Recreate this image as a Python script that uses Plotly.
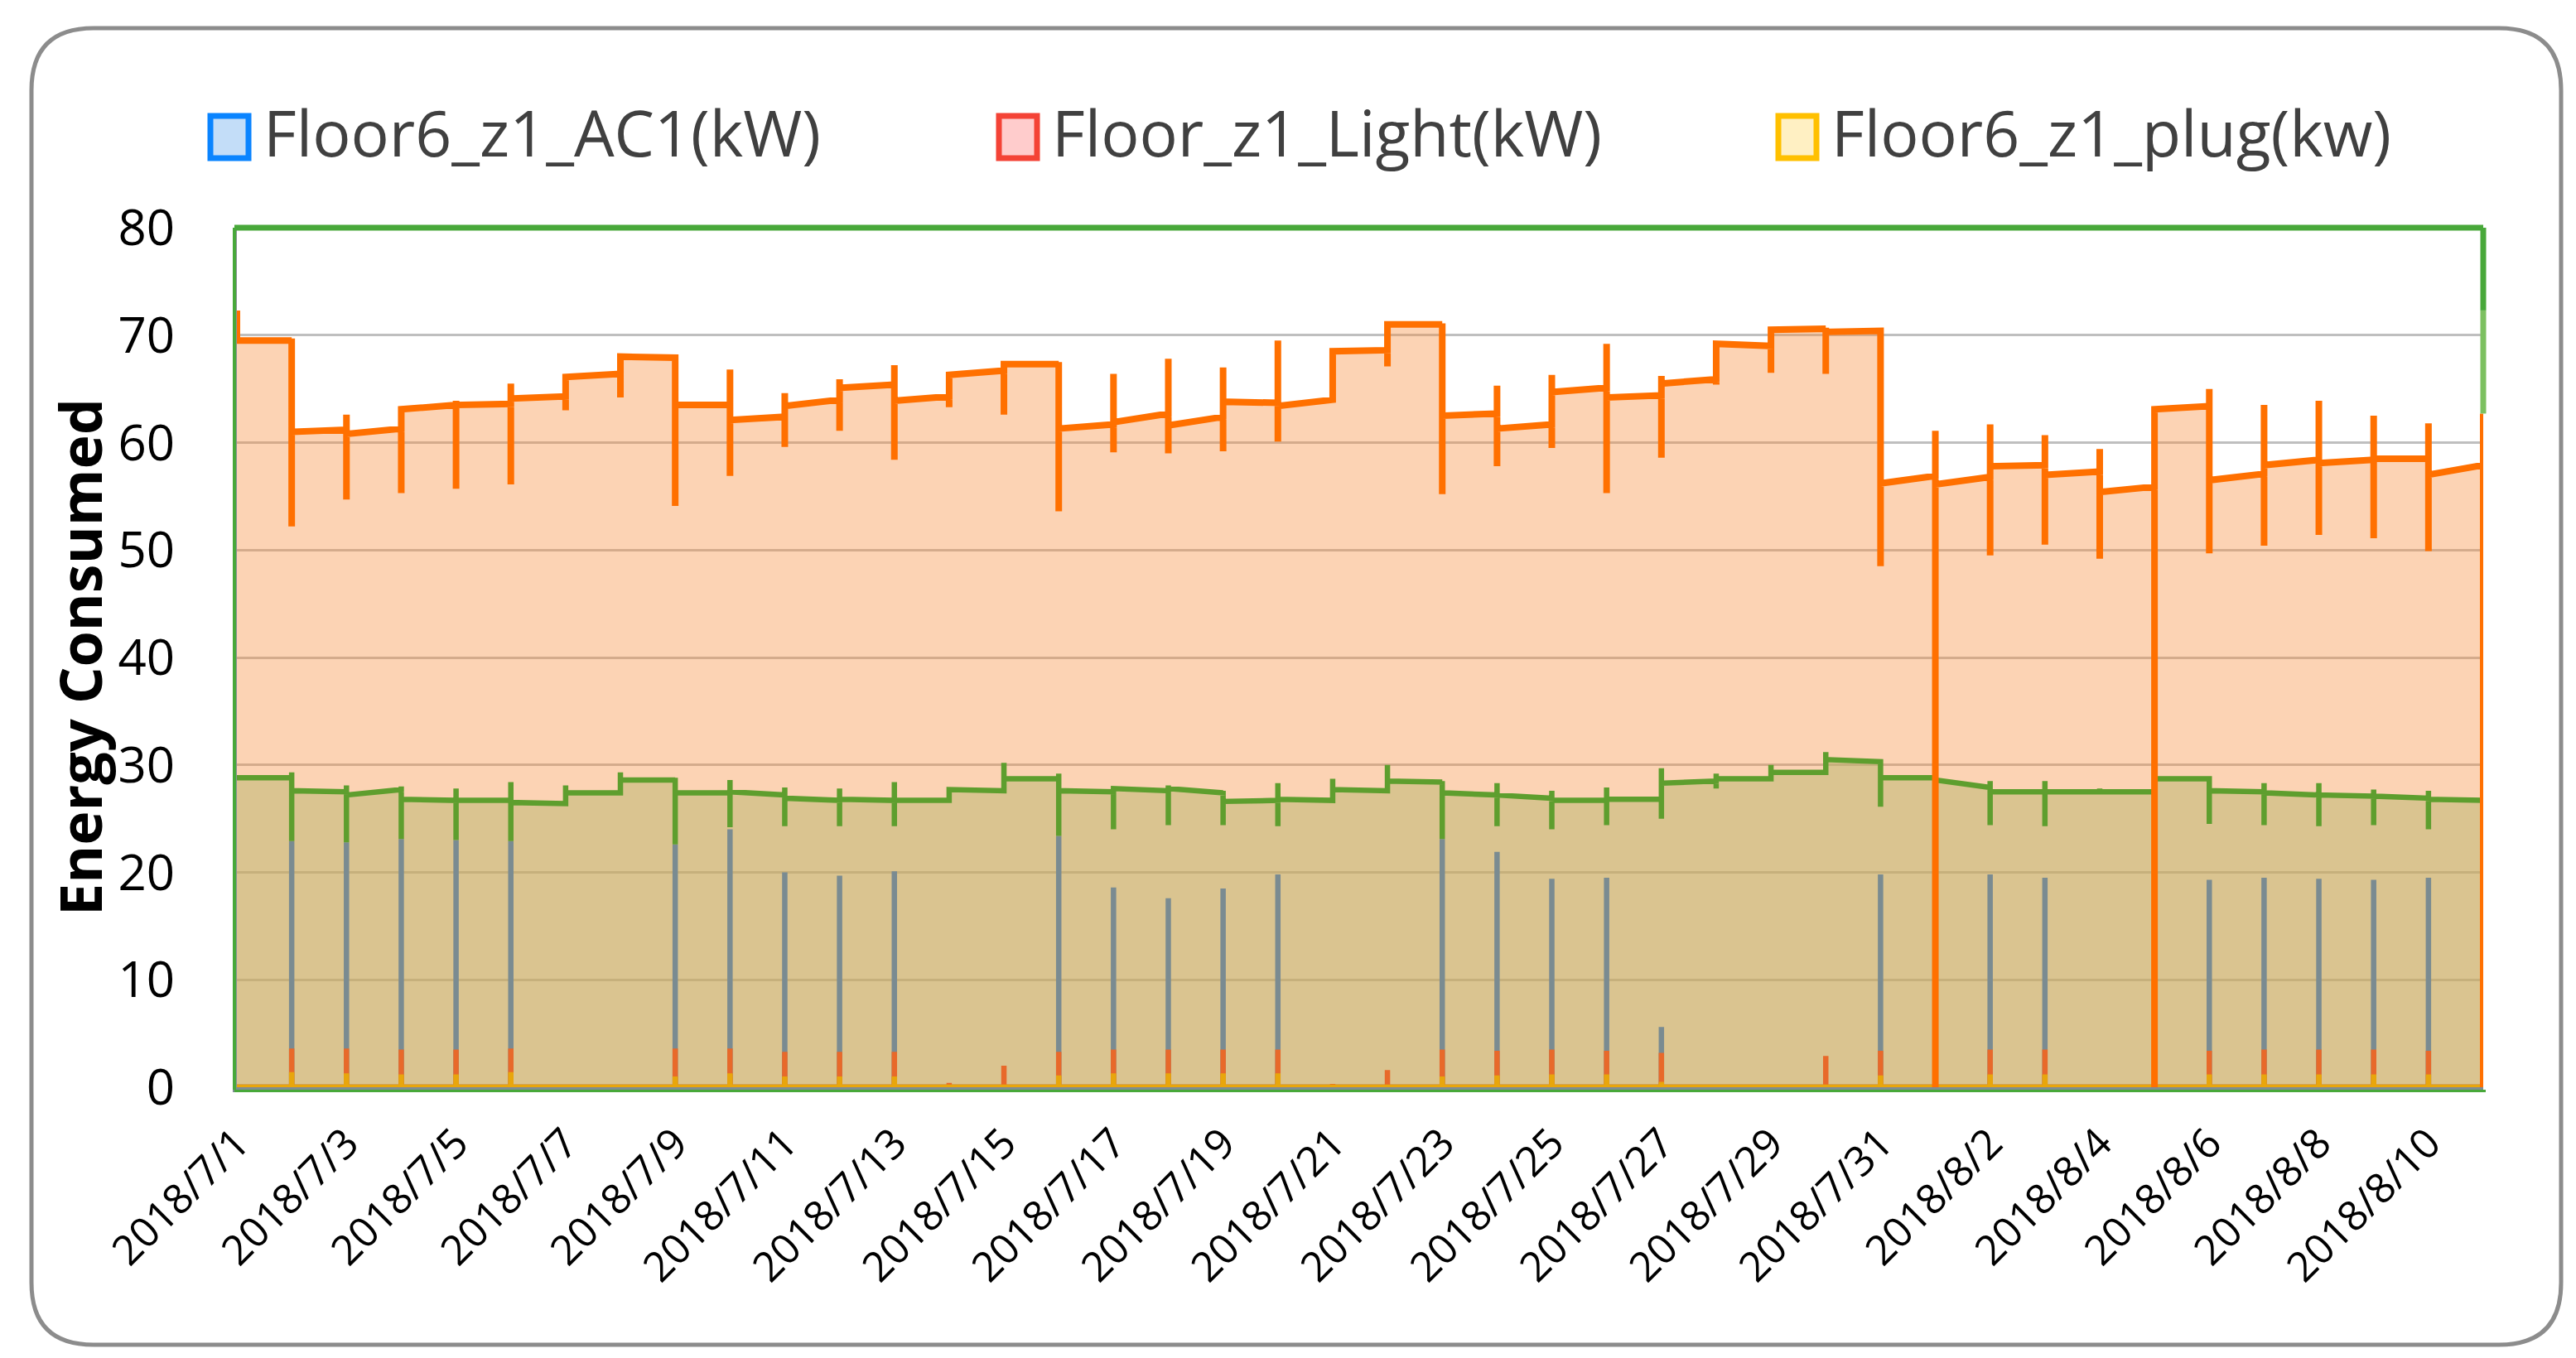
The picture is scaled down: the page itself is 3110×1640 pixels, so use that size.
import datetime as dt
import plotly.graph_objects as go

# ---------------- data ----------------
base_date = dt.datetime(2018, 7, 1)
n_days = 41

# upper (orange) series: level at start / end of each day
upper_start = [69.5, 61.0, 60.8, 63.1, 63.5, 64.1, 66.1, 68.0, 63.5, 62.1,
               63.4, 65.1, 63.9, 66.3, 67.3, 61.3, 61.9, 61.6, 63.8, 63.4,
               68.5, 71.0, 62.5, 61.3, 64.7, 64.2, 65.5, 69.2, 70.5, 70.3,
               56.2, 56.1, 57.8, 57.0, 55.4, 63.1, 56.5, 57.9, 58.1, 58.5, 57.0]
upper_end = [69.5, 61.2, 61.3, 63.5, 63.6, 64.3, 66.4, 67.9, 63.5, 62.4,
             64.0, 65.4, 64.3, 66.7, 67.3, 61.7, 62.7, 62.4, 63.7, 64.0,
             68.6, 71.0, 62.7, 61.7, 65.1, 64.4, 65.9, 69.0, 70.6, 70.4,
             56.9, 56.8, 57.9, 57.3, 55.9, 63.4, 57.1, 58.4, 58.4, 58.5, 57.9]
# spikes at each midnight boundary (0..41)
upper_hi = [72.3, 69.7, 62.6, 63.4, 63.9, 65.5, 66.3, 68.3, 67.9, 66.8,
            64.6, 65.9, 67.2, 66.5, 67.4, 67.5, 66.4, 67.8, 67.0, 69.5,
            68.7, 71.1, 71.1, 65.3, 66.3, 69.2, 66.2, 69.3, 70.5, 70.7,
            70.4, 61.1, 61.7, 60.7, 59.4, 63.1, 65.0, 63.5, 63.9, 62.5, 61.8, 62.7]
upper_lo = [69.5, 52.2, 54.7, 55.3, 55.7, 56.1, 63.0, 64.2, 54.1, 56.9,
            59.6, 61.1, 58.4, 63.3, 62.6, 53.6, 59.1, 59.0, 59.2, 60.1,
            63.9, 67.1, 55.2, 57.8, 59.5, 55.3, 58.6, 65.4, 66.5, 66.4,
            48.5, 0.0, 49.5, 50.5, 49.2, 0.0, 49.7, 50.4, 51.4, 51.1, 49.9, 0.0]

# middle (green) series
mid_start = [28.8, 27.6, 27.2, 26.8, 26.7, 26.5, 27.4, 28.6, 27.4, 27.5,
             26.9, 26.8, 26.7, 27.7, 28.7, 27.6, 27.8, 27.8, 26.6, 26.8,
             27.7, 28.5, 27.4, 27.2, 26.7, 26.8, 28.3, 28.7, 29.3, 30.5,
             28.8, 28.6, 27.5, 27.5, 27.5, 28.7, 27.6, 27.4, 27.2, 27.1, 26.8]
mid_end = [28.8, 27.5, 27.7, 26.7, 26.7, 26.4, 27.4, 28.6, 27.4, 27.2,
           26.7, 26.7, 26.7, 27.6, 28.7, 27.5, 27.6, 27.4, 26.7, 26.7,
           27.6, 28.4, 27.2, 26.9, 26.7, 26.8, 28.5, 28.7, 29.3, 30.3,
           28.8, 27.9, 27.5, 27.5, 27.5, 28.7, 27.5, 27.2, 27.1, 26.9, 26.7]
mid_hi = [28.8, 29.3, 28.1, 28.0, 27.8, 28.4, 28.1, 29.3, 28.8, 28.6,
          27.9, 27.8, 28.4, 27.9, 30.2, 29.2, 27.9, 28.1, 27.6, 28.3,
          28.7, 30.0, 28.5, 28.3, 27.6, 27.9, 29.7, 29.2, 30.0, 31.2,
          30.3, 28.8, 28.5, 28.5, 27.8, 30.5, 28.7, 28.3, 28.3, 27.7, 27.6, 26.7]
mid_lo = [28.8, 22.9, 22.8, 23.1, 23.0, 22.9, 26.3, 27.2, 22.6, 24.2,
          24.3, 24.3, 24.3, 26.6, 27.5, 23.4, 24.0, 24.4, 24.4, 24.3,
          26.6, 27.6, 23.1, 24.3, 24.0, 24.4, 25.0, 27.8, 28.7, 29.2,
          26.1, 28.6, 24.4, 24.3, 27.3, 27.5, 24.5, 24.4, 24.3, 24.4, 24.0, 26.7]

# short spikes at the boundaries (0..41)
ac_peak = [0, 22.9, 22.8, 23.1, 23.0, 22.9, 0, 0, 22.6, 24.0,
           20.0, 19.7, 20.1, 0, 0, 23.4, 18.6, 17.6, 18.5, 19.8,
           0, 0, 23.1, 21.9, 19.4, 19.5, 5.6, 0, 0, 0,
           19.8, 0, 19.8, 19.5, 0, 0, 19.3, 19.5, 19.4, 19.3, 19.5, 0]
light_peak = [0, 3.6, 3.6, 3.5, 3.5, 3.6, 0, 0, 3.6, 3.6,
              3.3, 3.3, 3.3, 0.4, 2.0, 3.3, 3.5, 3.5, 3.5, 3.5,
              0.3, 1.6, 3.5, 3.4, 3.5, 3.4, 3.2, 0, 0, 2.9,
              3.4, 0, 3.5, 3.5, 0, 0, 3.4, 3.5, 3.5, 3.5, 3.4, 0]
plug_peak = [0, 1.4, 1.3, 1.2, 1.2, 1.4, 0, 0, 1.0, 1.3,
             1.0, 1.0, 1.0, 0, 0, 1.1, 1.3, 1.3, 1.3, 1.3,
             0, 0, 1.0, 1.1, 1.2, 1.2, 0.5, 0, 0, 0,
             1.1, 0, 1.2, 1.2, 0, 0, 1.2, 1.2, 1.2, 1.2, 1.2, 0]

frame_right_end = 72.3

tick_labels = ["2018/7/1", "2018/7/3", "2018/7/5", "2018/7/7", "2018/7/9",
               "2018/7/11", "2018/7/13", "2018/7/15", "2018/7/17", "2018/7/19",
               "2018/7/21", "2018/7/23", "2018/7/25", "2018/7/27", "2018/7/29",
               "2018/7/31", "2018/8/2", "2018/8/4", "2018/8/6", "2018/8/8",
               "2018/8/10"]
y_ticks = [0, 10, 20, 30, 40, 50, 60, 70, 80]

legend_names = ["Floor6_z1_AC1(kW)", "Floor_z1_Light(kW)", "Floor6_z1_plug(kw)"]
legend_border = ["#0A84FF", "#F44336", "#FFC000"]
legend_fill = ["#C3DDF8", "#FFCCCC", "#FFF0C3"]

# ---------------- helpers ----------------
def day(b):
    return (base_date + dt.timedelta(days=b)).strftime("%Y-%m-%d %H:%M")


def level_path(start, end, hi, lo):
    xs, ys = [], []
    xs += [day(0)] * 3
    ys += [hi[0], lo[0], start[0]]
    for d in range(n_days):
        b = d + 1
        xs += [day(b)] * 3
        ys += [end[d], hi[b], lo[b]]
        if b < n_days:
            xs.append(day(b))
            ys.append(start[b])
    return xs, ys


def spike_path(peaks):
    xs, ys = [], []
    for b, p in enumerate(peaks):
        if p > 0:
            xs += [day(b)] * 3
            ys += [0, p, 0]
        else:
            xs.append(day(b))
            ys.append(0)
    return xs, ys


# ---------------- figure ----------------
W, H = 3110, 1640
L, R, T, B = 278, 2990, 267, 1305
PW, PH = R - L, B - T


def px(x):
    return (x - L) / PW


def py(y):
    return (B - y) / PH


FONT = "Open Sans"
fig = go.Figure()

ux, uy = level_path(upper_start, upper_end, upper_hi, upper_lo)
mx, my = level_path(mid_start, mid_end, mid_hi, mid_lo)

fig.add_trace(go.Scatter(x=ux, y=uy, mode="lines", fill="tozeroy",
                         fillcolor="rgba(247,139,58,0.38)",
                         line=dict(width=0, color="rgba(0,0,0,0)"),
                         hoverinfo="skip", showlegend=False))
fig.add_trace(go.Scatter(x=mx, y=my, mode="lines", fill="tozeroy",
                         fillcolor="rgba(184,181,108,0.5)",
                         line=dict(width=0, color="rgba(0,0,0,0)"),
                         hoverinfo="skip", showlegend=False))

for peaks, col in [(ac_peak, "#7A8B91"), (light_peak, "#E8692A"), (plug_peak, "#E8A60C")]:
    sx, sy = spike_path(peaks)
    fig.add_trace(go.Scatter(x=sx, y=sy, mode="lines",
                             line=dict(width=6.5, color=col),
                             hoverinfo="skip", showlegend=False))

fig.add_trace(go.Scatter(x=mx, y=my, mode="lines",
                         line=dict(width=6.5, color="#5E9E2E"),
                         hoverinfo="skip", showlegend=False))
fig.add_trace(go.Scatter(x=ux, y=uy, mode="lines",
                         line=dict(width=8, color="#FF7000"),
                         hoverinfo="skip", showlegend=False))

shapes = []
# green frame around the plot area
g = "#48A83A"
off_x = 3 / PW
off_y = 3 / PH
shapes.append(dict(type="line", xref="paper", yref="paper", x0=-off_x, x1=1, y0=1, y1=1,
                   line=dict(color=g, width=7)))
shapes.append(dict(type="line", xref="paper", yref="paper", x0=-off_x, x1=-off_x, y0=-off_y, y1=1,
                   line=dict(color=g, width=4)))
shapes.append(dict(type="line", xref="paper", yref="paper", x0=-off_x, x1=1 + off_x, y0=-off_y * 1.5, y1=-off_y * 1.5,
                   line=dict(color=g, width=3)))
shapes.append(dict(type="line", xref="paper", yref="y", x0=1, x1=1, y0=frame_right_end, y1=80,
                   line=dict(color=g, width=7)))
shapes.append(dict(type="line", xref="paper", yref="y", x0=1, x1=1, y0=upper_hi[-1], y1=frame_right_end,
                   line=dict(color="#7CC060", width=7)))

# rounded outer border
x0, x1 = px(30), px(3084)
y0, y1 = py(1616), py(26)
rx, ry = 75 / PW, 75 / PH
path = (f"M {x0+rx},{y1} L {x1-rx},{y1} Q {x1},{y1} {x1},{y1-ry} "
        f"L {x1},{y0+ry} Q {x1},{y0} {x1-rx},{y0} L {x0+rx},{y0} "
        f"Q {x0},{y0} {x0},{y0+ry} L {x0},{y1-ry} Q {x0},{y1} {x0+rx},{y1} Z")
shapes.append(dict(type="path", xref="paper", yref="paper", path=path,
                   line=dict(color="#8C8C8C", width=5), fillcolor="rgba(0,0,0,0)"))

# manual legend
annotations = []
sq_left = [246, 1198, 2139]
for i, name in enumerate(legend_names):
    xl = sq_left[i]
    shapes.append(dict(type="rect", xref="paper", yref="paper",
                       x0=px(xl), x1=px(xl + 46), y0=py(183), y1=py(132),
                       line=dict(color=legend_border[i], width=7),
                       fillcolor=legend_fill[i]))
    annotations.append(dict(xref="paper", yref="paper", x=px(xl + 62), y=py(151),
                            xanchor="left", yanchor="middle", showarrow=False,
                            text=name, font=dict(family=FONT, size=77, color="#404040")))

annotations.append(dict(xref="paper", yref="paper", x=px(88), y=0.5,
                        xanchor="center", yanchor="middle", showarrow=False,
                        textangle=-90, text="<b>Energy Consumed</b>",
                        font=dict(family=FONT, size=70, color="#000000")))

tick_vals = [day(2 * k) for k in range(len(tick_labels))]

fig.update_layout(
    width=W, height=H,
    margin=dict(l=L, r=W - R, t=T, b=H - B, pad=0),
    paper_bgcolor="white", plot_bgcolor="white",
    showlegend=False,
    shapes=shapes, annotations=annotations,
    xaxis=dict(type="date", range=[day(0), day(n_days)], showgrid=False,
               zeroline=False, tickmode="array", tickvals=tick_vals,
               ticktext=tick_labels, tickangle=-45, ticks="",
               ticklabelstandoff=12, automargin=False,
               tickfont=dict(family=FONT, size=50, color="#000000"),
               showline=True, linecolor="#7F8C92", linewidth=6),
    yaxis=dict(range=[0, 80], tickmode="array", tickvals=y_ticks,
               showgrid=True, gridcolor="#BFBFBF", gridwidth=3,
               zeroline=False, ticks="", ticklabelstandoff=58, automargin=False,
               tickfont=dict(family=FONT, size=60, color="#000000"),
               showline=True, linecolor="#8A9296", linewidth=5),
)

fig.write_html("out.html")
